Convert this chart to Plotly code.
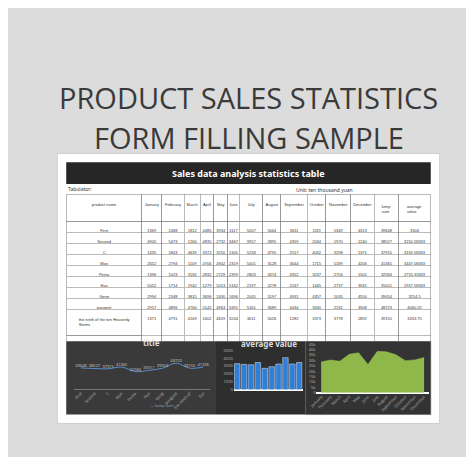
import plotly.graph_objs as go

W, H = 474, 457

months = ['January', 'February', 'March', 'April', 'May', 'June', 'July',
          'August', 'September', 'October', 'November', 'December']
products = ['First', 'Second', 'C', 'Man', 'Penta', 'Has', 'Geng', 'pungent',
            'the ninth of the ten Heavenly Stems', 'Gui']

first = [1369, 2468, 1812, 4485, 3934, 1117, 5007, 5064, 3611, 1119, 5349, 4313, 39648, '3304']
second = [4905, 5473, 1260, 4835, 2732, 3467, 3957, 2895, 4359, 2034, 1970, 1240, 38527, '3210.58333']
c_row = [1435, 1843, 4639, 3372, 3250, 1305, 5258, 4795, 2517, 4032, 3298, 1371, 37915, '3159.58333']
man = [2652, 2794, 1109, 4706, 4902, 2319, 5001, 3128, 3644, 1715, 5189, 4206, 41365, '3447.08333']
penta = [1396, 1023, 3182, 2832, 2729, 2399, 2803, 4374, 4352, 3237, 2756, 1501, 32584, '2715.33333']
has = [5052, 1714, 1942, 1279, 5013, 5162, 2197, 2278, 2247, 1445, 2737, 3945, 35011, '2917.58333']
geng = [2994, 2348, 3815, 3696, 2430, 1696, 2005, 5197, 4931, 4357, 1035, 4550, 39054, '3254.5']
pungent = [2917, 4896, 4760, 5142, 4963, 3391, 5161, 3689, 4434, 3430, 2232, 3908, 48723, '4060.25']
ninth = [1371, 4791, 4169, 1602, 4659, 3244, 3011, 5026, 1282, 3373, 3778, 2859, 39155, '3263.75']
gui = [4590, 2964, 2605, 3834, 2477, 2264, 5089, 1548, 3852, 4240, 2784, 5149, 41396, '3449.66667']
lump = [28681, 30414, 29293, 35783, 37089, 26364, '####', 37994, 35229, 29782, 30528, 32742, 393388, '32782.3333']
avg = ['2868.1', '3041.4', 2929, 3578, 3709, 2636, 3949, 3799, '3522.9', '2978.2', '3052.8', '3274.2', '39338.8', '3278.23333']

# chart series
lump_by_product = [39648, 38527, 37915, 41365, 32584, 35011, 39054, 48723, 39155, 41396]
avg_by_product = [3304, 3210.58, 3159.58, 3447.08, 2715.33, 2917.58, 3254.5, 4060.25, 3263.75, 3449.67]
lump_by_month = [28681, 30414, 29293, 35783, 37089, 26364, 38489, 37994, 35229, 29782, 30528, 32742]


def px(x):
    return x / W


def py(y):
    return 1 - y / H


rows = [first, second, c_row, man, penta, has, geng, pungent, ninth, gui, lump, avg]
names = products + ['lump sum', 'average value']
columns = [names] + [[r[i] for r in rows] for i in range(14)]
header = ['product name'] + months + ['lump sum', 'average value']
widths = [77, 20, 23, 16, 14, 14, 12, 24, 18, 27, 19, 25, 24, 25, 32]

cell_font = dict(size=4, color='#333', family='Liberation Sans Narrow, Liberation Sans')

fig = go.Figure()

fig.add_trace(go.Table(
    domain=dict(x=[px(52), px(422)], y=[py(334), py(186)]),
    columnwidth=widths,
    header=dict(values=header, height=11, fill_color='white',
                line=dict(color='#777', width=0.5), font=cell_font, align='center'),
    cells=dict(values=columns, height=11, fill_color='white',
               line=dict(color='#777', width=0.5), font=cell_font, align='center'),
))

# line chart: lump sum by product
fig.add_trace(go.Scatter(
    x=products, y=lump_by_product, mode='lines+text', name='lump sum',
    line=dict(color='#5b8fc7', width=1, shape='spline'),
    text=[str(v) for v in lump_by_product], textposition='top center',
    textfont=dict(size=4, color='#ccc'), xaxis='x', yaxis='y'))

# bar chart: average value
fig.add_trace(go.Bar(
    x=products, y=avg_by_product, marker=dict(color='#2f7ed8'),
    xaxis='x2', yaxis='y2', showlegend=False))

# area chart: monthly lump sum
fig.add_trace(go.Scatter(
    x=months, y=lump_by_month, mode='lines', fill='tozeroy',
    line=dict(color='#9bbb59', width=0.5), fillcolor='#8fb84a',
    xaxis='x3', yaxis='y3', showlegend=False))

tick_font = dict(size=4, color='#bbb')
P = dict(xref='paper', yref='paper')
shapes = [
    dict(type='rect', x0=px(43), x1=px(431), y0=py(417), y1=py(144),
         fillcolor='white', line=dict(color='#cfcfcf', width=1), layer='below', **P),
    dict(type='rect', x0=px(52), x1=px(422), y0=py(175), y1=py(153),
         fillcolor='#262626', line_width=0, layer='below', **P),
    dict(type='rect', x0=px(52), x1=px(204), y0=py(408), y1=py(334),
         fillcolor='#3a3a3a', line_width=0, layer='below', **P),
    dict(type='rect', x0=px(204), x1=px(295), y0=py(408), y1=py(334),
         fillcolor='#2e2e2e', line_width=0, layer='below', **P),
    dict(type='rect', x0=px(295), x1=px(422), y0=py(408), y1=py(334),
         fillcolor='#333333', line=dict(color='#555', width=0.5), layer='below', **P),
]

annotations = [
    dict(text='PRODUCT SALES STATISTICS', x=0.5, y=py(66), showarrow=False,
         font=dict(size=29, color='#3a3a3a', family='Open Sans'), **P),
    dict(text='FORM FILLING SAMPLE', x=0.5, y=py(106), showarrow=False,
         font=dict(size=29, color='#3a3a3a', family='Open Sans'), **P),
    dict(text='<b>Sales data analysis statistics table</b>', x=px(237), y=py(164), showarrow=False,
         font=dict(size=9, color='white', family='Noto Sans'), **P),
    dict(text='Tabulator:', x=px(52), y=py(180), xanchor='left', showarrow=False,
         font=dict(size=5, color='#333', family='Noto Sans'), **P),
    dict(text='Unit: ten thousand yuan', x=px(345), y=py(181), showarrow=False,
         font=dict(size=5, color='#333', family='Noto Sans'), **P),
    dict(text='<b>title</b>', x=px(128), y=py(343), showarrow=False,
         font=dict(size=8, color='#ddd', family='Noto Sans'), **P),
    dict(text='<b>average value</b>', x=px(258), y=py(344), showarrow=False,
         font=dict(size=8, color='#ddd', family='Noto Sans'), **P),
    dict(text='— lump sum', x=px(135), y=py(403), showarrow=False,
         font=dict(size=4, color='#8ab'), **P),
]

layout = dict(
    width=W, height=H, margin=dict(l=0, r=0, t=0, b=0),
    paper_bgcolor='#dcdcdc', plot_bgcolor='rgba(0,0,0,0)', showlegend=False,
    shapes=shapes, annotations=annotations,
    xaxis=dict(domain=[px(60), px(198)], anchor='y', tickangle=-45, tickfont=tick_font,
               showgrid=False, showline=True, linecolor='#777', linewidth=0.5,
               tickvals=products, ticktext=[p[:12] for p in products]),
    yaxis=dict(domain=[py(382), py(350)], range=[0, 60000], visible=False),
    xaxis2=dict(domain=[px(222), px(292)], anchor='y2', showgrid=False, showticklabels=False),
    yaxis2=dict(domain=[py(383), py(343)], anchor='x2', range=[0, 5000], dtick=1000,
                tickfont=tick_font, showgrid=False),
    xaxis3=dict(domain=[px(306), px(420)], anchor='y3', tickangle=-45, tickfont=tick_font,
                showgrid=False, range=[-0.5, 11.5]),
    yaxis3=dict(domain=[py(386), py(337)], anchor='x3', range=[0, 45000], dtick=5000,
                tickfont=tick_font, showgrid=False),
)

fig = go.Figure(data=fig.data, layout=layout)
fig.write_html("out.html")
